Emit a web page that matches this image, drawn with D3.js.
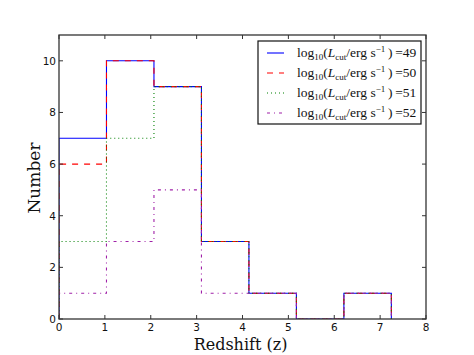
<!DOCTYPE html>
<html><head><meta charset="utf-8">
<script src="https://cdn.jsdelivr.net/npm/d3@7/dist/d3.min.js"></script>
<style>body{margin:0;background:#fff}svg{display:block}</style>
</head><body>
<svg id="c" width="474" height="355"></svg>
<script>
const binEdges = [0, 1.035, 2.07, 3.105, 4.14, 5.175, 6.21, 7.245];
const seriesNames = ["49", "50", "51", "52"];
const counts49 = [7, 10, 9, 3, 1, 0, 1];
const counts50 = [6, 10, 9, 3, 1, 0, 1];
const counts51 = [3, 7, 9, 3, 1, 0, 1];
const counts52 = [1, 3, 5, 1, 1, 0, 1];
const xTicks = [0,1,2,3,4,5,6,7,8];
const yTicks = [0,2,4,6,8,10];

const series = [
  {name: seriesNames[0], counts: counts49, color: "#0000ff", dash: null},
  {name: seriesNames[1], counts: counts50, color: "#ff0000", dash: "6,6"},
  {name: seriesNames[2], counts: counts51, color: "#008000", dash: "1,3"},
  {name: seriesNames[3], counts: counts52, color: "#a020a8", dash: "3,4,1,4"}
];

const svg = d3.select("#c");
const L = 59, R = 426, T = 35, B = 319;
const x = d3.scaleLinear().domain([0, 8]).range([L, R]);
const y = d3.scaleLinear().domain([0, 11]).range([B, T]);

const plot = svg.append("g");
plot.append("defs").append("clipPath").attr("id","clip")
  .append("rect").attr("x",L).attr("y",T).attr("width",R-L).attr("height",B-T);

series.forEach(s => {
  const pts = [[binEdges[0], 0]];
  s.counts.forEach((c, i) => { pts.push([binEdges[i], c]); pts.push([binEdges[i+1], c]); });
  pts.push([binEdges[binEdges.length-1], 0]);
  plot.append("path")
    .attr("d", d3.line().x(d => x(d[0])).y(d => y(d[1]))(pts))
    .attr("fill", "none").attr("stroke", s.color).attr("stroke-width", 1.1)
    .attr("stroke-dasharray", s.dash).attr("clip-path","url(#clip)");
});

// frame
svg.append("rect").attr("x",L).attr("y",T).attr("width",R-L).attr("height",B-T)
  .attr("fill","none").attr("stroke","#333").attr("stroke-width",1.3);

// ticks inward, all sides
const tl = 4;
const tickColor = "#333";
xTicks.forEach(t => {
  svg.append("line").attr("x1",x(t)).attr("x2",x(t)).attr("y1",B).attr("y2",B-tl).attr("stroke",tickColor);
  svg.append("line").attr("x1",x(t)).attr("x2",x(t)).attr("y1",T).attr("y2",T+tl).attr("stroke",tickColor);
  svg.append("text").attr("x",x(t)).attr("y",B+12).attr("text-anchor","middle")
    .attr("font-family","DejaVu Sans").attr("font-size",10.5).attr("fill","#111").text(t);
});
yTicks.forEach(t => {
  svg.append("line").attr("x1",L).attr("x2",L+tl).attr("y1",y(t)).attr("y2",y(t)).attr("stroke",tickColor);
  svg.append("line").attr("x1",R).attr("x2",R-tl).attr("y1",y(t)).attr("y2",y(t)).attr("stroke",tickColor);
  svg.append("text").attr("x",L-3).attr("y",y(t)+4).attr("text-anchor","end")
    .attr("font-family","DejaVu Sans").attr("font-size",10.5).attr("fill","#111").text(t);
});

// axis titles
svg.append("text").attr("x",(L+R)/2 - 2).attr("y",350).attr("text-anchor","middle")
  .attr("font-family","DejaVu Serif").attr("font-size",16).attr("fill","#111").text("Redshift (z)");
svg.append("text").attr("transform","translate(40,178) rotate(-90)").attr("text-anchor","middle")
  .attr("font-family","DejaVu Serif").attr("font-size",17).attr("fill","#111").text("Number");

// legend
const lg = svg.append("g");
lg.append("rect").attr("x",258).attr("y",41).attr("width",163).attr("height",83)
  .attr("fill","#fff").attr("stroke","#111").attr("stroke-width",1.2);
series.forEach((s, i) => {
  const yy = 53 + i*20;
  lg.append("line").attr("x1",267).attr("x2",284).attr("y1",yy).attr("y2",yy)
    .attr("stroke",s.color).attr("stroke-width",1.1).attr("stroke-dasharray",s.dash);
  const t = lg.append("text").attr("x",297).attr("y",yy+4)
    .attr("font-family","Liberation Serif").attr("font-size",13.5).attr("fill","#111");
  t.append("tspan").text("log");
  t.append("tspan").attr("font-size",9).attr("dy",3).text("10");
  t.append("tspan").attr("dy",-3).text("(");
  t.append("tspan").attr("font-style","italic").text("L");
  t.append("tspan").attr("font-size",9).attr("dy",3).text("cut");
  t.append("tspan").attr("dy",-3).text("/erg s");
  t.append("tspan").attr("font-size",9).attr("dy",-5).text("−1");
  t.append("tspan").attr("dy",5).text("\u2009)\u2009=" + s.name);
});
</script>
</body></html>
